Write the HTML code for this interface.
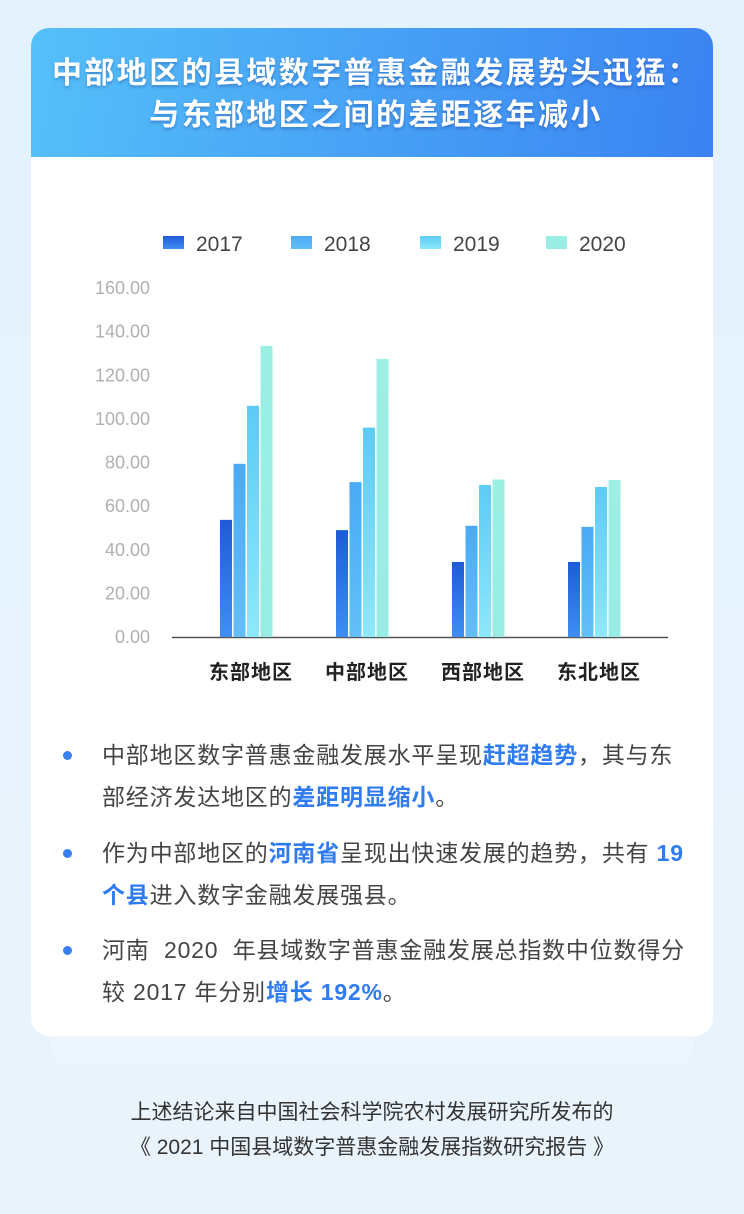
<!DOCTYPE html>
<html><head><meta charset="utf-8">
<style>
body{margin:0;width:744px;height:1214px;background:linear-gradient(#e4f2fd,#e9f3fc);font-family:"Liberation Sans","Noto Sans CJK SC",sans-serif;position:relative;overflow:hidden}
.card{position:absolute;left:31px;top:28px;width:682px;height:1008px;background:#fff;border-radius:18px;overflow:hidden}
.shadow{position:absolute;left:50px;top:1020px;width:644px;height:45px;background:#edf5fd;border-radius:0 0 18px 18px}
.head{height:129px;background:linear-gradient(100deg,#55c0f9,#3a83f2);color:#fff;font-weight:bold;font-size:30px;letter-spacing:2.4px;text-align:center;line-height:42px;padding-top:25px;padding-left:8px;box-sizing:border-box;text-shadow:0 2px 3px rgba(0,0,80,.25);white-space:nowrap}
.bul{position:absolute;left:71px;font-size:23px;letter-spacing:0.8px;color:#444;line-height:42px;width:640px;white-space:nowrap}
.bul b{color:#2f7bf0}
.dot{position:absolute;left:-8px;top:17px;width:9px;height:9px;border-radius:50%;background:#3a7ff0}
.foot{position:absolute;left:0;width:744px;top:1095px;text-align:center;font-size:21px;color:#333;line-height:35px}
</style></head><body>
<div class="shadow"></div>
<div class="card">
<div class="head">中部地区的县域数字普惠金融发展势头迅猛：<br>与东部地区之间的差距逐年减小</div>
</div>
<svg id="chart" width="744" height="700" style="position:absolute;left:0;top:0"></svg>
<div class="bul" style="top:734px"><span class="dot"></span><span style="margin-left:31px">中部地区数字普惠金融发展水平呈现<b>赶超趋势</b>，其与东</span><br><span style="margin-left:31px">部经济发达地区的<b>差距明显缩小</b>。</span></div>
<div class="bul" style="top:832px"><span class="dot"></span><span style="margin-left:31px">作为中部地区的<b>河南省</b>呈现出快速发展的趋势，共有 <b>19</b></span><br><span style="margin-left:31px"><b>个县</b>进入数字金融发展强县。</span></div>
<div class="bul" style="top:929px"><span class="dot"></span><span style="margin-left:31px">河南&nbsp; 2020&nbsp; 年县域数字普惠金融发展总指数中位数得分</span><br><span style="margin-left:31px">较 2017 年分别<b>增长 192%</b>。</span></div>
<div class="foot">上述结论来自中国社会科学院农村发展研究所发布的<br>《 2021 中国县域数字普惠金融发展指数研究报告 》</div>
<script>
const categories=["东部地区","中部地区","西部地区","东北地区"];
const years=["2017","2018","2019","2020"];
const s2017=[53.7,49.0,34.4,34.4];
const s2018=[79.4,71.0,51.0,50.5];
const s2019=[106.0,96.0,69.7,68.8];
const s2020=[133.5,127.5,72.2,72.0];
const yTicks=[0,20,40,60,80,100,120,140,160];
const series=[s2017,s2018,s2019,s2020];
const ns="http://www.w3.org/2000/svg";
const svg=document.getElementById('chart');
const y0=637,y1=288,vmax=160;
const y=v=>y0-(v/vmax)*(y0-y1);
const bandStart=189,bandW=116;
const xc=i=>bandStart+bandW*(i+0.5);
const barW=12,barStep=13.5;
const grads=[["#3f8ef5","#1f5bd6"],["#64bff7","#4aaaf5"],["#8ce9f9","#5ccbf5"],["#98ece4","#9cefe3"]];
const defs=document.createElementNS(ns,'defs');svg.appendChild(defs);
grads.forEach((g,k)=>{const lg=document.createElementNS(ns,'linearGradient');lg.setAttribute('id','g'+k);lg.setAttribute('x1','0');lg.setAttribute('y1','1');lg.setAttribute('x2','0');lg.setAttribute('y2','0');
lg.innerHTML=`<stop offset="0" stop-color="${g[0]}"/><stop offset="1" stop-color="${g[1]}"/>`;defs.appendChild(lg);});
function t(x,yy,s,attrs){const e=document.createElementNS(ns,'text');e.setAttribute('x',x);e.setAttribute('y',yy);for(const k in attrs)e.setAttribute(k,attrs[k]);e.textContent=s;svg.appendChild(e);return e;}
yTicks.forEach(v=>{const e=t(150,y(v)+6,v.toFixed(2),{'text-anchor':'end','font-size':'18','fill':'#b0b0b0'});

});
const ax=document.createElementNS(ns,'line');ax.setAttribute('x1',172);ax.setAttribute('x2',668);ax.setAttribute('y1',y0+0.5);ax.setAttribute('y2',y0+0.5);ax.setAttribute('stroke','#555');ax.setAttribute('stroke-width','1.5');


svg.appendChild(ax);
categories.forEach((c,i)=>{
 series.forEach((s,k)=>{const r=document.createElementNS(ns,'rect');const bx=xc(i)-2*barStep+k*barStep;
 r.setAttribute('x',bx);r.setAttribute('width',barW);r.setAttribute('y',y(s[i]));r.setAttribute('height',y0-y(s[i]));r.setAttribute('fill','url(#g'+k+')');
 
 
 svg.appendChild(r);});
 const e=t(xc(i)+4,679,c,{'text-anchor':'middle','font-size':'20','letter-spacing':'1','font-weight':'bold','fill':'#222'});
 
 
});
const lx=[163,291,420,546];
years.forEach((yr,k)=>{const r=document.createElementNS(ns,'rect');r.setAttribute('x',lx[k]);r.setAttribute('y',236);r.setAttribute('width',21);r.setAttribute('height',13);r.setAttribute('fill','url(#g'+k+')');


svg.appendChild(r);
const e=t(lx[k]+33,251,yr,{'font-size':'21','fill':'#444'});

});
</script>
</body></html>
